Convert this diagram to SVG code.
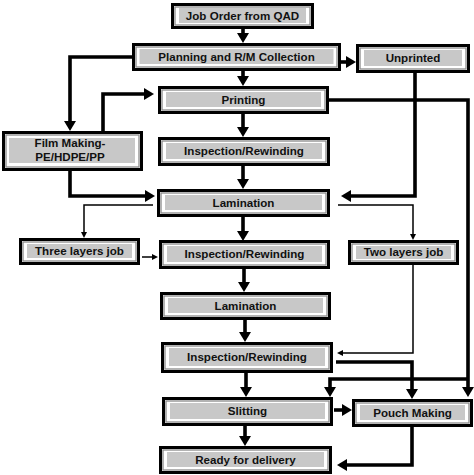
<svg xmlns="http://www.w3.org/2000/svg" width="474" height="475" viewBox="0 0 474 475">
<style>
.ob{fill:#fff;stroke:#000;stroke-width:3}
.ib{fill:none;stroke:#8a8a8a;stroke-width:1.3}
.gf{fill:#c8c8c8}
.t{font-family:"Liberation Sans",Arial,sans-serif;font-weight:bold;font-size:11.6px;fill:#111;text-anchor:middle}
.k{fill:none;stroke:#000;stroke-width:3.6;marker-end:url(#ah)}
.n{fill:none;stroke:#000;stroke-width:1.5;marker-end:url(#as)}
</style>
<defs>
<marker id="ah" viewBox="0 0 10 12" markerWidth="10" markerHeight="12" refX="6" refY="6" orient="auto" markerUnits="userSpaceOnUse"><path d="M0,0 L10,6 L0,12 z" fill="#000"/></marker>
<marker id="as" viewBox="0 0 6 6" markerWidth="6" markerHeight="6" refX="4" refY="3" orient="auto" markerUnits="userSpaceOnUse"><path d="M0,0 L6,3 L0,6 z" fill="#000"/></marker>
</defs>
<rect width="474" height="475" fill="#fff"/>
<g id="connectors">
<path class="k" d="M243,29 V39"/>
<path class="k" d="M243,71 V82"/>
<path class="k" d="M341,62 H352"/>
<path class="k" d="M132,57 H70 V127"/>
<path class="k" d="M103,131 V94 H150"/>
<path class="k" d="M70,171 V196 H151"/>
<path class="k" d="M243,114 V133"/>
<path class="k" d="M329,100 H468 V393"/>
<path class="k" d="M415,73 V196 H345"/>
<path class="k" d="M243,166 V185"/>
<path class="n" d="M153,205 H84 V236"/>
<path class="n" d="M338,205 H413 V238"/>
<path class="k" d="M243,217 V237"/>
<path class="n" d="M142,257 H156"/>
<path class="k" d="M244,269 V288"/>
<path class="k" d="M245,320 V338"/>
<path class="n" d="M413,265 V353 H339"/>
<path class="k" d="M246,373 V393"/>
<path class="k" d="M336,362 H412 V395"/>
<path class="k" d="M468,379 H330 V393"/>
<path class="k" d="M334,410 H348"/>
<path class="k" d="M245,426 V442"/>
<path class="k" d="M412,427 V465 H341"/>
</g>
<g id="job-order">
<rect class="ob" x="172.5" y="4.5" width="140" height="23"/>
<rect class="ib" x="175" y="7" width="135" height="18"/>
<rect class="gf" x="179" y="8" width="127" height="15"/>
<text class="t" x="242.5" y="20">Job Order from QAD</text>
</g>
<g id="planning">
<rect class="ob" x="133.5" y="44.5" width="206" height="25"/>
<rect class="ib" x="136" y="47" width="201" height="20"/>
<rect class="gf" x="139.5" y="49" width="194" height="15"/>
<text class="t" x="236.5" y="61">Planning and R/M Collection</text>
</g>
<g id="unprinted">
<rect class="ob" x="357.5" y="45.5" width="111" height="26"/>
<rect class="ib" x="360" y="48" width="106" height="21"/>
<rect class="gf" x="364" y="50" width="98" height="16"/>
<text class="t" x="413" y="62">Unprinted</text>
</g>
<g id="printing">
<rect class="ob" x="159.5" y="87.5" width="168" height="25"/>
<rect class="ib" x="162" y="90" width="163" height="20"/>
<rect class="gf" x="166" y="92" width="155" height="15"/>
<text class="t" x="243.5" y="104">Printing</text>
</g>
<g id="film-making">
<rect class="ob" x="3.5" y="132.5" width="138" height="37"/>
<rect class="ib" x="6" y="135" width="133" height="32"/>
<rect class="gf" x="9" y="138" width="126" height="25"/>
<text class="t" x="70" y="147">Film Making-</text>
<text class="t" x="70" y="161">PE/HDPE/PP</text>
</g>
<g id="inspection-1">
<rect class="ob" x="159.5" y="138.5" width="169" height="26"/>
<rect class="ib" x="162" y="141" width="164" height="21"/>
<rect class="gf" x="166" y="143" width="156" height="16"/>
<text class="t" x="244" y="155">Inspection/Rewinding</text>
</g>
<g id="lamination-1">
<rect class="ob" x="158.5" y="190.5" width="170" height="25"/>
<rect class="ib" x="161" y="193" width="165" height="20"/>
<rect class="gf" x="165" y="195" width="157" height="15"/>
<text class="t" x="243.5" y="207">Lamination</text>
</g>
<g id="three-layers">
<rect class="ob" x="20.5" y="239.5" width="118" height="24"/>
<rect class="ib" x="23" y="242" width="113" height="19"/>
<rect class="gf" x="27" y="244" width="105" height="14"/>
<text class="t" x="79.5" y="255">Three layers job</text>
</g>
<g id="inspection-2">
<rect class="ob" x="160.5" y="241.5" width="168" height="26"/>
<rect class="ib" x="163" y="244" width="163" height="21"/>
<rect class="gf" x="167" y="246" width="155" height="16"/>
<text class="t" x="244.5" y="258">Inspection/Rewinding</text>
</g>
<g id="two-layers">
<rect class="ob" x="349.5" y="241.5" width="108" height="22"/>
<rect class="ib" x="352" y="244" width="103" height="17"/>
<rect class="gf" x="356" y="246" width="95" height="13"/>
<text class="t" x="403.5" y="256">Two layers job</text>
</g>
<g id="lamination-2">
<rect class="ob" x="161.5" y="293.5" width="168" height="25"/>
<rect class="ib" x="164" y="296" width="163" height="20"/>
<rect class="gf" x="168" y="298" width="155" height="15"/>
<text class="t" x="245.5" y="310">Lamination</text>
</g>
<g id="inspection-3">
<rect class="ob" x="162.5" y="343.5" width="169" height="28"/>
<rect class="ib" x="165" y="346" width="164" height="23"/>
<rect class="gf" x="169" y="348" width="156" height="18"/>
<text class="t" x="247" y="361">Inspection/Rewinding</text>
</g>
<g id="slitting">
<rect class="ob" x="163.5" y="398.5" width="168" height="26"/>
<rect class="ib" x="166" y="401" width="163" height="21"/>
<rect class="gf" x="170" y="403" width="155" height="16"/>
<text class="t" x="247.5" y="415">Slitting</text>
</g>
<g id="ready">
<rect class="ob" x="160.5" y="447.5" width="170" height="25"/>
<rect class="ib" x="163" y="450" width="165" height="20"/>
<rect class="gf" x="167" y="452" width="157" height="15"/>
<text class="t" x="245.5" y="464">Ready for delivery</text>
</g>
<g id="pouch-making">
<rect class="ob" x="353.5" y="400.5" width="118" height="25"/>
<rect class="ib" x="356" y="403" width="113" height="20"/>
<rect class="gf" x="360" y="405" width="105" height="15"/>
<text class="t" x="412.5" y="417">Pouch Making</text>
</g>
</svg>
